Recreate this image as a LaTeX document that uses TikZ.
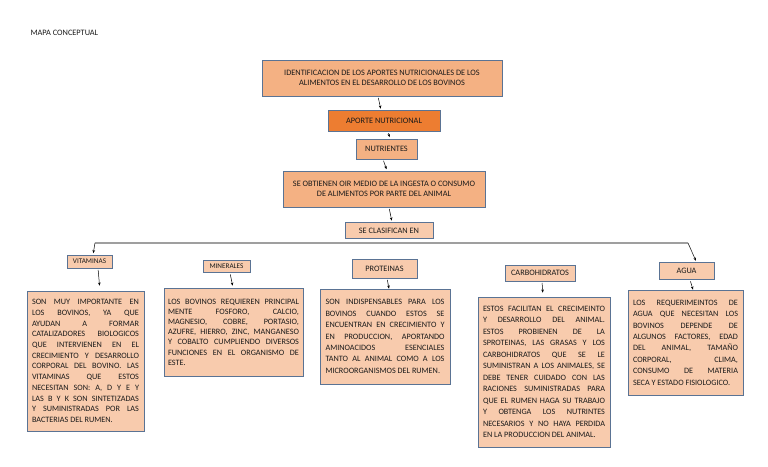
\documentclass[tikz,border=0pt]{standalone}
\usepackage{fontspec}
\setmainfont{Carlito}
\usetikzlibrary{arrows.meta}

\definecolor{borde}{HTML}{5A7394}
\definecolor{naranja}{HTML}{F4B183}
\definecolor{naranjaosc}{HTML}{ED7D31}
\definecolor{durazno}{HTML}{F8CBAD}
\definecolor{texto}{HTML}{1A1A1A}

\tolerance=10000
\hbadness=10000
\hyphenpenalty=10000

\begin{document}
\begin{tikzpicture}[x=1pt,y=-1pt,
    cuadro/.style={draw=borde,line width=0.7pt,fill=#1,text=texto,inner sep=0pt,
        align=center,font=\fontsize{8.3}{10.5}\selectfont},
    nota/.style={draw=borde,line width=0.7pt,fill=durazno,text=texto,inner sep=0pt,
        align=justify,font=\fontsize{8.2}{#1}\selectfont},
    flecha/.style={-{Stealth[length=3.2pt,width=2.6pt]},line width=0.5pt,black,
        shorten <=1.5pt,shorten >=1.5pt},
    rama/.style={line width=1.4pt,gray!75}]

    \fill[white] (0,0) rectangle (768,466);
    \useasboundingbox (0,0) rectangle (768,466);

    \node[anchor=west,text=texto,font=\fontsize{8.3}{10}\selectfont] (titulo) at (27,33) {MAPA CONCEPTUAL};

    % columna central
    \node[cuadro=naranja,minimum width=240pt,minimum height=36pt] (ident) at (382,78)
        {IDENTIFICACION DE LOS APORTES NUTRICIONALES DE LOS\\ALIMENTOS EN EL DESARROLLO DE LOS BOVINOS};
    \node[cuadro=naranjaosc,minimum width=112pt,minimum height=21pt] (aporte) at (384,121) {APORTE NUTRICIONAL};
    \node[cuadro=naranja,minimum width=61pt,minimum height=20pt] (nutri) at (386.5,149) {NUTRIENTES};
    \node[cuadro=naranja,minimum width=202pt,minimum height=36pt] (obtiene) at (384,189)
        {SE OBTIENEN OIR MEDIO DE LA INGESTA O CONSUMO\\DE ALIMENTOS POR PARTE DEL ANIMAL};
    \node[cuadro=durazno,minimum width=88pt,minimum height=16pt] (clasif) at (389,230.5) {SE CLASIFICAN EN};

    \draw[flecha] ([xshift=-4pt]ident.south) -- ([xshift=-3pt]aporte.north);
    \draw[flecha] ([xshift=4pt]aporte.south) -- ([xshift=3.5pt]nutri.north);
    \draw[flecha] ([xshift=-3.5pt]nutri.south) -- ([xshift=3pt]obtiene.north);
    \draw[flecha] ([xshift=5pt]obtiene.south) -- ([xshift=3pt]clasif.north);

    % encabezados
    \node[cuadro=durazno,minimum width=45pt,minimum height=13pt,font=\fontsize{7.2}{8}\selectfont] (vita) at (89.5,261.5) {VITAMINAS};
    \node[cuadro=durazno,minimum width=47pt,minimum height=12pt,font=\fontsize{7.2}{8}\selectfont] (mine) at (226.5,266.5) {MINERALES};
    \node[cuadro=durazno,minimum width=65pt,minimum height=19pt] (prot) at (384.5,268.5) {PROTEINAS};
    \node[cuadro=durazno,minimum width=70pt,minimum height=16pt] (carbo) at (540,273) {CARBOHIDRATOS};
    \node[cuadro=durazno,minimum width=55pt,minimum height=17pt] (agua) at (686.5,271) {AGUA};

    \coordinate (ramaI) at (95,243);
    \coordinate (ramaD) at (688,243);
    \draw[rama] (ramaI) -- (ramaD);
    \draw[flecha,shorten <=0pt] (ramaI) -- ([xshift=3.5pt]vita.north);
    \draw[flecha,shorten <=0pt] (ramaD) -- ([xshift=10pt]agua.north);

    % descripciones
    \node[nota=10.7pt,minimum width=117pt,minimum height=140pt,text width=107pt] (tvita) at (85.5,361)
        {SON MUY IMPORTANTE EN\linebreak LOS BOVINOS, YA QUE\linebreak AYUDAN A FORMAR\linebreak
        CATALIZADORES BIOLOGICOS\linebreak QUE INTERVIENEN EN EL\linebreak CRECIMIENTO Y DESARROLLO\linebreak
        CORPORAL DEL BOVINO. LAS\linebreak VITAMINAS QUE ESTOS\linebreak NECESITAN SON: A, D Y E Y\linebreak
        LAS B Y K SON SINTETIZADAS\linebreak Y SUMINISTRADAS POR LAS\linebreak BACTERIAS DEL RUMEN.};
    \node[nota=10.2pt,minimum width=139pt,minimum height=88pt,text width=131pt] (tmine) at (233.5,332)
        {LOS BOVINOS REQUIEREN PRINCIPAL\linebreak MENTE FOSFORO, CALCIO,\linebreak MAGNESIO, COBRE, PORTASIO,\linebreak
        AZUFRE, HIERRO, ZINC, MANGANESO\linebreak Y COBALTO CUMPLIENDO DIVERSOS\linebreak
        FUNCIONES EN EL ORGANISMO DE\linebreak ESTE.};
    \node[nota=11.4pt,minimum width=130pt,minimum height=95pt,text width=119pt] (tprot) at (385,336.5)
        {SON INDISPENSABLES PARA LOS\linebreak BOVINOS CUANDO ESTOS SE\linebreak ENCUENTRAN EN CRECIMIENTO Y\linebreak
        EN PRODUCCION, APORTANDO\linebreak AMINOACIDOS ESENCIALES\linebreak TANTO AL ANIMAL COMO A LOS\linebreak
        MICROORGANISMOS DEL RUMEN.};
    \node[nota=11.5pt,minimum width=132pt,minimum height=150pt,text width=122pt] (tcarbo) at (544,372)
        {ESTOS FACILITAN EL CRECIMEINTO\linebreak Y DESARROLLO DEL ANIMAL.\linebreak ESTOS PROBIENEN DE LA\linebreak
        SPROTEINAS, LAS GRASAS Y LOS\linebreak CARBOHIDRATOS QUE SE LE\linebreak SUMINISTRAN A LOS ANIMALES, SE\linebreak
        DEBE TENER CUIDADO CON LAS\linebreak RACIONES SUMINISTRADAS PARA\linebreak QUE EL RUMEN HAGA SU TRABAJO\linebreak
        Y OBTENGA LOS NUTRINTES\linebreak NECESARIOS Y NO HAYA PERDIDA\linebreak EN LA PRODUCCION DEL ANIMAL.};
    \node[nota=11.4pt,minimum width=115pt,minimum height=105pt,text width=105pt] (tagua) at (685.5,342.5)
        {LOS REQUERIMEINTOS DE\linebreak AGUA QUE NECESITAN LOS\linebreak BOVINOS DEPENDE DE\linebreak
        ALGUNOS FACTORES, EDAD\linebreak DEL ANIMAL, TAMAÑO\linebreak CORPORAL, CLIMA,\linebreak
        CONSUMO DE MATERIA\linebreak SECA Y ESTADO FISIOLOGICO.};

    \draw[flecha,shorten >=5pt] ([xshift=8.5pt]vita.south) -- ([xshift=14.5pt]tvita.north);
    \draw[flecha,shorten >=2pt] ([xshift=3.5pt]mine.south) -- ([xshift=-0.5pt]tmine.north);
    \draw[flecha,shorten >=0pt] ([xshift=2.5pt]prot.south) -- ([xshift=4pt]tprot.north);
    \draw[flecha,shorten >=4pt] ([xshift=2pt]carbo.south) -- ([xshift=-1pt]tcarbo.north);
    \draw[flecha,shorten >=0pt] ([xshift=3.5pt]agua.south) -- ([xshift=7.5pt]tagua.north);
\end{tikzpicture}
\end{document}
